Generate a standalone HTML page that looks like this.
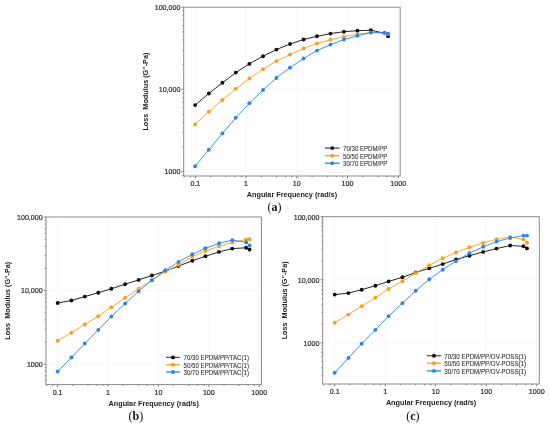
<!DOCTYPE html>
<html><head><meta charset="utf-8"><style>
html,body{margin:0;padding:0;background:#fff;width:550px;height:426px;overflow:hidden}
svg{display:block;filter:blur(0.25px)}
.tl{font-family:"Liberation Sans",Arial,sans-serif;font-size:7.1px;fill:#2a2a2a;stroke:#2a2a2a;stroke-width:0.2px}
.at{font-family:"Liberation Sans",Arial,sans-serif;font-size:7.25px;font-weight:bold;fill:#222}
.lg{font-family:"Liberation Sans",Arial,sans-serif;font-size:7px;fill:#333;stroke:#333;stroke-width:0.1px}
.sb{font-family:"Liberation Serif","Times New Roman",serif;font-size:12px;fill:#111}
.sbb{font-family:"Liberation Serif","Times New Roman",serif;font-size:12px;font-weight:bold;fill:#111}
</style></head><body>
<svg width="550" height="426" viewBox="0 0 550 426">
<line x1="195.4" y1="7.2" x2="195.4" y2="176" stroke="#f5f5f5" stroke-width="0.8"/>
<line x1="246.1" y1="7.2" x2="246.1" y2="176" stroke="#f5f5f5" stroke-width="0.8"/>
<line x1="296.8" y1="7.2" x2="296.8" y2="176" stroke="#f5f5f5" stroke-width="0.8"/>
<line x1="347.5" y1="7.2" x2="347.5" y2="176" stroke="#f5f5f5" stroke-width="0.8"/>
<line x1="398.2" y1="7.2" x2="398.2" y2="176" stroke="#f5f5f5" stroke-width="0.8"/>
<line x1="183.7" y1="171.6" x2="400.2" y2="171.6" stroke="#f5f5f5" stroke-width="0.8"/>
<line x1="183.7" y1="89.4" x2="400.2" y2="89.4" stroke="#f5f5f5" stroke-width="0.8"/>
<path d="M184.15 176v1.3 M190.49 176v1.3 M195.4 176v2.2 M210.66 176v1.3 M225.92 176v1.3 M234.85 176v1.3 M241.19 176v1.3 M246.1 176v2.2 M261.36 176v1.3 M276.62 176v1.3 M285.55 176v1.3 M291.89 176v1.3 M296.8 176v2.2 M312.06 176v1.3 M327.32 176v1.3 M336.25 176v1.3 M342.59 176v1.3 M347.5 176v2.2 M362.76 176v1.3 M378.02 176v1.3 M386.95 176v1.3 M393.29 176v1.3 M398.2 176v2.2 M183.7 175.36h-1.3 M183.7 171.6h-2.2 M183.7 146.86h-1.3 M183.7 132.38h-1.3 M183.7 122.11h-1.3 M183.7 114.14h-1.3 M183.7 107.64h-1.3 M183.7 102.13h-1.3 M183.7 97.37h-1.3 M183.7 93.16h-1.3 M183.7 89.4h-2.2 M183.7 64.66h-1.3 M183.7 50.18h-1.3 M183.7 39.91h-1.3 M183.7 31.94h-1.3 M183.7 25.44h-1.3 M183.7 19.93h-1.3 M183.7 15.17h-1.3 M183.7 10.96h-1.3 M183.7 7.2h-2.2" stroke="#555" stroke-width="0.8" fill="none"/>
<rect x="183.7" y="7.2" width="216.5" height="168.8" fill="none" stroke="#8a8a8a" stroke-width="1"/>
<text x="180.4" y="10" text-anchor="end" class="tl">100,000</text>
<text x="180.4" y="92.2" text-anchor="end" class="tl">10,000</text>
<text x="180.4" y="174.4" text-anchor="end" class="tl">1000</text>
<text x="195.4" y="186.4" text-anchor="middle" class="tl">0.1</text>
<text x="246.1" y="186.4" text-anchor="middle" class="tl">1</text>
<text x="296.8" y="186.4" text-anchor="middle" class="tl">10</text>
<text x="347.5" y="186.4" text-anchor="middle" class="tl">100</text>
<text x="398.2" y="186.4" text-anchor="middle" class="tl">1000</text>
<text x="291.95" y="197.2" text-anchor="middle" class="at">Angular Frequency (rad/s)</text>
<text transform="translate(147.5 91.6) rotate(-90)" text-anchor="middle" class="at" xml:space="preserve">Loss  Modulus (G''-Pa)</text>
<polyline points="195.1,105.1 208.8,93.5 222.4,82.8 235.8,72.6 249.4,63.9 263,56.2 276.4,49.6 290,44 303.6,39.5 317,36.3 330.5,33.6 343.9,31.7 357.5,30.7 370.9,30.2 384.5,33.3 388.1,36.2" fill="none" stroke="#0d0d0d" stroke-width="0.9"/>
<circle cx="195.1" cy="105.1" r="1.95" fill="#0d0d0d"/>
<circle cx="208.8" cy="93.5" r="1.95" fill="#0d0d0d"/>
<circle cx="222.4" cy="82.8" r="1.95" fill="#0d0d0d"/>
<circle cx="235.8" cy="72.6" r="1.95" fill="#0d0d0d"/>
<circle cx="249.4" cy="63.9" r="1.95" fill="#0d0d0d"/>
<circle cx="263" cy="56.2" r="1.95" fill="#0d0d0d"/>
<circle cx="276.4" cy="49.6" r="1.95" fill="#0d0d0d"/>
<circle cx="290" cy="44" r="1.95" fill="#0d0d0d"/>
<circle cx="303.6" cy="39.5" r="1.95" fill="#0d0d0d"/>
<circle cx="317" cy="36.3" r="1.95" fill="#0d0d0d"/>
<circle cx="330.5" cy="33.6" r="1.95" fill="#0d0d0d"/>
<circle cx="343.9" cy="31.7" r="1.95" fill="#0d0d0d"/>
<circle cx="357.5" cy="30.7" r="1.95" fill="#0d0d0d"/>
<circle cx="370.9" cy="30.2" r="1.95" fill="#0d0d0d"/>
<circle cx="384.5" cy="33.3" r="1.95" fill="#0d0d0d"/>
<circle cx="388.1" cy="36.2" r="1.95" fill="#0d0d0d"/>
<polyline points="195.1,124.4 208.8,111.8 222.4,100 235.8,88.8 249.4,78.5 263,69.3 276.4,61.1 290,54.6 303.6,48.5 317,43.4 330.5,39.8 343.9,36.6 357.5,34.1 370.9,32.5 384.5,33.4 388.1,34.1" fill="none" stroke="#f89f1e" stroke-width="0.9"/>
<circle cx="195.1" cy="124.4" r="1.95" fill="#f89f1e"/>
<circle cx="208.8" cy="111.8" r="1.95" fill="#f89f1e"/>
<circle cx="222.4" cy="100" r="1.95" fill="#f89f1e"/>
<circle cx="235.8" cy="88.8" r="1.95" fill="#f89f1e"/>
<circle cx="249.4" cy="78.5" r="1.95" fill="#f89f1e"/>
<circle cx="263" cy="69.3" r="1.95" fill="#f89f1e"/>
<circle cx="276.4" cy="61.1" r="1.95" fill="#f89f1e"/>
<circle cx="290" cy="54.6" r="1.95" fill="#f89f1e"/>
<circle cx="303.6" cy="48.5" r="1.95" fill="#f89f1e"/>
<circle cx="317" cy="43.4" r="1.95" fill="#f89f1e"/>
<circle cx="330.5" cy="39.8" r="1.95" fill="#f89f1e"/>
<circle cx="343.9" cy="36.6" r="1.95" fill="#f89f1e"/>
<circle cx="357.5" cy="34.1" r="1.95" fill="#f89f1e"/>
<circle cx="370.9" cy="32.5" r="1.95" fill="#f89f1e"/>
<circle cx="384.5" cy="33.4" r="1.95" fill="#f89f1e"/>
<circle cx="388.1" cy="34.1" r="1.95" fill="#f89f1e"/>
<polyline points="195.1,166.3 208.8,149.7 222.4,133.4 235.8,117.8 249.4,103.3 263,90 276.4,78 290,67.7 303.6,58.5 317,50.6 330.5,44.6 343.9,39.5 357.5,35.8 370.9,32.6 384.5,32.6 388.1,33.7" fill="none" stroke="#2f84ea" stroke-width="0.9"/>
<circle cx="195.1" cy="166.3" r="1.95" fill="#2f84ea"/>
<circle cx="208.8" cy="149.7" r="1.95" fill="#2f84ea"/>
<circle cx="222.4" cy="133.4" r="1.95" fill="#2f84ea"/>
<circle cx="235.8" cy="117.8" r="1.95" fill="#2f84ea"/>
<circle cx="249.4" cy="103.3" r="1.95" fill="#2f84ea"/>
<circle cx="263" cy="90" r="1.95" fill="#2f84ea"/>
<circle cx="276.4" cy="78" r="1.95" fill="#2f84ea"/>
<circle cx="290" cy="67.7" r="1.95" fill="#2f84ea"/>
<circle cx="303.6" cy="58.5" r="1.95" fill="#2f84ea"/>
<circle cx="317" cy="50.6" r="1.95" fill="#2f84ea"/>
<circle cx="330.5" cy="44.6" r="1.95" fill="#2f84ea"/>
<circle cx="343.9" cy="39.5" r="1.95" fill="#2f84ea"/>
<circle cx="357.5" cy="35.8" r="1.95" fill="#2f84ea"/>
<circle cx="370.9" cy="32.6" r="1.95" fill="#2f84ea"/>
<circle cx="384.5" cy="32.6" r="1.95" fill="#2f84ea"/>
<circle cx="388.1" cy="33.7" r="1.95" fill="#2f84ea"/>
<rect x="322.9" y="144.1" width="65.4" height="23.1" fill="#fff"/>
<line x1="324.9" y1="148.1" x2="339.6" y2="148.1" stroke="#555" stroke-width="1.3"/>
<circle cx="332.25" cy="148.1" r="1.95" fill="#0d0d0d"/>
<text x="343.1" y="151" class="lg" textLength="44.2" lengthAdjust="spacingAndGlyphs">70/30 EPDM/PP</text>
<line x1="324.9" y1="155.7" x2="339.6" y2="155.7" stroke="#f89f1e" stroke-width="1.3"/>
<circle cx="332.25" cy="155.7" r="1.95" fill="#f89f1e"/>
<text x="343.1" y="158.6" class="lg" textLength="44.2" lengthAdjust="spacingAndGlyphs">50/50 EPDM/PP</text>
<line x1="324.9" y1="163.2" x2="339.6" y2="163.2" stroke="#2f84ea" stroke-width="1.3"/>
<circle cx="332.25" cy="163.2" r="1.95" fill="#2f84ea"/>
<text x="343.1" y="166.1" class="lg" textLength="44.2" lengthAdjust="spacingAndGlyphs">30/70 EPDM/PP</text>
<text x="274.5" y="210.6" text-anchor="middle" class="sb">(<tspan font-weight="bold">a</tspan>)</text>
<line x1="57.6" y1="217" x2="57.6" y2="384.6" stroke="#f5f5f5" stroke-width="0.8"/>
<line x1="108" y1="217" x2="108" y2="384.6" stroke="#f5f5f5" stroke-width="0.8"/>
<line x1="158.4" y1="217" x2="158.4" y2="384.6" stroke="#f5f5f5" stroke-width="0.8"/>
<line x1="208.8" y1="217" x2="208.8" y2="384.6" stroke="#f5f5f5" stroke-width="0.8"/>
<line x1="259.2" y1="217" x2="259.2" y2="384.6" stroke="#f5f5f5" stroke-width="0.8"/>
<line x1="46" y1="364.3" x2="261.4" y2="364.3" stroke="#f5f5f5" stroke-width="0.8"/>
<line x1="46" y1="290.65" x2="261.4" y2="290.65" stroke="#f5f5f5" stroke-width="0.8"/>
<path d="M46.42 384.6v1.3 M52.72 384.6v1.3 M57.6 384.6v2.2 M72.77 384.6v1.3 M87.94 384.6v1.3 M96.82 384.6v1.3 M103.12 384.6v1.3 M108 384.6v2.2 M123.17 384.6v1.3 M138.34 384.6v1.3 M147.22 384.6v1.3 M153.52 384.6v1.3 M158.4 384.6v2.2 M173.57 384.6v1.3 M188.74 384.6v1.3 M197.62 384.6v1.3 M203.92 384.6v1.3 M208.8 384.6v2.2 M223.97 384.6v1.3 M239.14 384.6v1.3 M248.02 384.6v1.3 M254.32 384.6v1.3 M259.2 384.6v2.2 M46 380.64h-1.3 M46 375.71h-1.3 M46 371.44h-1.3 M46 367.67h-1.3 M46 364.3h-2.2 M46 342.13h-1.3 M46 329.16h-1.3 M46 319.96h-1.3 M46 312.82h-1.3 M46 306.99h-1.3 M46 302.06h-1.3 M46 297.79h-1.3 M46 294.02h-1.3 M46 290.65h-2.2 M46 268.48h-1.3 M46 255.51h-1.3 M46 246.31h-1.3 M46 239.17h-1.3 M46 233.34h-1.3 M46 228.41h-1.3 M46 224.14h-1.3 M46 220.37h-1.3 M46 217h-2.2" stroke="#555" stroke-width="0.8" fill="none"/>
<rect x="46" y="217" width="215.4" height="167.6" fill="none" stroke="#8a8a8a" stroke-width="1"/>
<text x="42.7" y="219.8" text-anchor="end" class="tl">100,000</text>
<text x="42.7" y="293.45" text-anchor="end" class="tl">10,000</text>
<text x="42.7" y="367.1" text-anchor="end" class="tl">1000</text>
<text x="57.6" y="395" text-anchor="middle" class="tl">0.1</text>
<text x="108" y="395" text-anchor="middle" class="tl">1</text>
<text x="158.4" y="395" text-anchor="middle" class="tl">10</text>
<text x="208.8" y="395" text-anchor="middle" class="tl">100</text>
<text x="259.2" y="395" text-anchor="middle" class="tl">1000</text>
<text x="153.7" y="405.8" text-anchor="middle" class="at">Angular Frequency (rad/s)</text>
<text transform="translate(9.8 300.8) rotate(-90)" text-anchor="middle" class="at" xml:space="preserve">Loss  Modulus (G''-Pa)</text>
<polyline points="57.7,303 71.4,300.5 84.8,296.6 98.3,292.7 111.4,288.8 125.1,284.2 138.6,279.9 151.9,275.5 165.3,271.1 178.5,266.1 192.3,260.8 205.4,256.3 219,251.9 232.3,248.6 246.1,247.8 249.5,249.5" fill="none" stroke="#0d0d0d" stroke-width="0.9"/>
<circle cx="57.7" cy="303" r="1.95" fill="#0d0d0d"/>
<circle cx="71.4" cy="300.5" r="1.95" fill="#0d0d0d"/>
<circle cx="84.8" cy="296.6" r="1.95" fill="#0d0d0d"/>
<circle cx="98.3" cy="292.7" r="1.95" fill="#0d0d0d"/>
<circle cx="111.4" cy="288.8" r="1.95" fill="#0d0d0d"/>
<circle cx="125.1" cy="284.2" r="1.95" fill="#0d0d0d"/>
<circle cx="138.6" cy="279.9" r="1.95" fill="#0d0d0d"/>
<circle cx="151.9" cy="275.5" r="1.95" fill="#0d0d0d"/>
<circle cx="165.3" cy="271.1" r="1.95" fill="#0d0d0d"/>
<circle cx="178.5" cy="266.1" r="1.95" fill="#0d0d0d"/>
<circle cx="192.3" cy="260.8" r="1.95" fill="#0d0d0d"/>
<circle cx="205.4" cy="256.3" r="1.95" fill="#0d0d0d"/>
<circle cx="219" cy="251.9" r="1.95" fill="#0d0d0d"/>
<circle cx="232.3" cy="248.6" r="1.95" fill="#0d0d0d"/>
<circle cx="246.1" cy="247.8" r="1.95" fill="#0d0d0d"/>
<circle cx="249.5" cy="249.5" r="1.95" fill="#0d0d0d"/>
<polyline points="57.7,340.7 71.4,332.7 84.8,324.5 98.3,316.2 111.4,307.2 125.1,297.9 138.6,288.8 151.9,280.1 165.3,271.7 178.5,264.9 192.3,256.7 205.4,251 219,246.2 232.3,242.3 246.1,239.5 249.5,239.3" fill="none" stroke="#f89f1e" stroke-width="0.9"/>
<circle cx="57.7" cy="340.7" r="1.95" fill="#f89f1e"/>
<circle cx="71.4" cy="332.7" r="1.95" fill="#f89f1e"/>
<circle cx="84.8" cy="324.5" r="1.95" fill="#f89f1e"/>
<circle cx="98.3" cy="316.2" r="1.95" fill="#f89f1e"/>
<circle cx="111.4" cy="307.2" r="1.95" fill="#f89f1e"/>
<circle cx="125.1" cy="297.9" r="1.95" fill="#f89f1e"/>
<circle cx="138.6" cy="288.8" r="1.95" fill="#f89f1e"/>
<circle cx="151.9" cy="280.1" r="1.95" fill="#f89f1e"/>
<circle cx="165.3" cy="271.7" r="1.95" fill="#f89f1e"/>
<circle cx="178.5" cy="264.9" r="1.95" fill="#f89f1e"/>
<circle cx="192.3" cy="256.7" r="1.95" fill="#f89f1e"/>
<circle cx="205.4" cy="251" r="1.95" fill="#f89f1e"/>
<circle cx="219" cy="246.2" r="1.95" fill="#f89f1e"/>
<circle cx="232.3" cy="242.3" r="1.95" fill="#f89f1e"/>
<circle cx="246.1" cy="239.5" r="1.95" fill="#f89f1e"/>
<circle cx="249.5" cy="239.3" r="1.95" fill="#f89f1e"/>
<polyline points="57.7,371.5 71.4,357.5 84.8,343.5 98.3,329.9 111.4,316.5 125.1,303.5 138.6,291.4 151.9,280.3 165.3,270.3 178.5,261.9 192.3,254.3 205.4,248.3 219,243.3 232.3,240.1 246.1,242.2 249.5,245.4" fill="none" stroke="#2f84ea" stroke-width="0.9"/>
<circle cx="57.7" cy="371.5" r="1.95" fill="#2f84ea"/>
<circle cx="71.4" cy="357.5" r="1.95" fill="#2f84ea"/>
<circle cx="84.8" cy="343.5" r="1.95" fill="#2f84ea"/>
<circle cx="98.3" cy="329.9" r="1.95" fill="#2f84ea"/>
<circle cx="111.4" cy="316.5" r="1.95" fill="#2f84ea"/>
<circle cx="125.1" cy="303.5" r="1.95" fill="#2f84ea"/>
<circle cx="138.6" cy="291.4" r="1.95" fill="#2f84ea"/>
<circle cx="151.9" cy="280.3" r="1.95" fill="#2f84ea"/>
<circle cx="165.3" cy="270.3" r="1.95" fill="#2f84ea"/>
<circle cx="178.5" cy="261.9" r="1.95" fill="#2f84ea"/>
<circle cx="192.3" cy="254.3" r="1.95" fill="#2f84ea"/>
<circle cx="205.4" cy="248.3" r="1.95" fill="#2f84ea"/>
<circle cx="219" cy="243.3" r="1.95" fill="#2f84ea"/>
<circle cx="232.3" cy="240.1" r="1.95" fill="#2f84ea"/>
<circle cx="246.1" cy="242.2" r="1.95" fill="#2f84ea"/>
<circle cx="249.5" cy="245.4" r="1.95" fill="#2f84ea"/>
<rect x="164" y="353.4" width="86" height="22.6" fill="#fff"/>
<line x1="166" y1="357.4" x2="180" y2="357.4" stroke="#555" stroke-width="1.3"/>
<circle cx="173" cy="357.4" r="1.95" fill="#0d0d0d"/>
<text x="183.6" y="360.3" class="lg" textLength="65.4" lengthAdjust="spacingAndGlyphs">70/30 EPDM/PP/TAC(1)</text>
<line x1="166" y1="364.8" x2="180" y2="364.8" stroke="#f89f1e" stroke-width="1.3"/>
<circle cx="173" cy="364.8" r="1.95" fill="#f89f1e"/>
<text x="183.6" y="367.7" class="lg" textLength="65.4" lengthAdjust="spacingAndGlyphs">50/50 EPDM/PP/TAC(1)</text>
<line x1="166" y1="372" x2="180" y2="372" stroke="#2f84ea" stroke-width="1.3"/>
<circle cx="173" cy="372" r="1.95" fill="#2f84ea"/>
<text x="183.6" y="374.9" class="lg" textLength="65.4" lengthAdjust="spacingAndGlyphs">30/70 EPDM/PP/TAC(1)</text>
<text x="135.8" y="419.5" text-anchor="middle" class="sb">(<tspan font-weight="bold">b</tspan>)</text>
<line x1="334.7" y1="216.7" x2="334.7" y2="384" stroke="#f5f5f5" stroke-width="0.8"/>
<line x1="385.2" y1="216.7" x2="385.2" y2="384" stroke="#f5f5f5" stroke-width="0.8"/>
<line x1="435.7" y1="216.7" x2="435.7" y2="384" stroke="#f5f5f5" stroke-width="0.8"/>
<line x1="486.2" y1="216.7" x2="486.2" y2="384" stroke="#f5f5f5" stroke-width="0.8"/>
<line x1="536.7" y1="216.7" x2="536.7" y2="384" stroke="#f5f5f5" stroke-width="0.8"/>
<line x1="322.7" y1="342.8" x2="539.3" y2="342.8" stroke="#f5f5f5" stroke-width="0.8"/>
<line x1="322.7" y1="279.8" x2="539.3" y2="279.8" stroke="#f5f5f5" stroke-width="0.8"/>
<path d="M323.5 384v1.3 M329.81 384v1.3 M334.7 384v2.2 M349.9 384v1.3 M365.1 384v1.3 M374 384v1.3 M380.31 384v1.3 M385.2 384v2.2 M400.4 384v1.3 M415.6 384v1.3 M424.5 384v1.3 M430.81 384v1.3 M435.7 384v2.2 M450.9 384v1.3 M466.1 384v1.3 M475 384v1.3 M481.31 384v1.3 M486.2 384v2.2 M501.4 384v1.3 M516.6 384v1.3 M525.5 384v1.3 M531.81 384v1.3 M536.7 384v2.2 M322.7 375.74h-1.3 M322.7 367.87h-1.3 M322.7 361.76h-1.3 M322.7 356.78h-1.3 M322.7 352.56h-1.3 M322.7 348.91h-1.3 M322.7 345.68h-1.3 M322.7 342.8h-2.2 M322.7 323.84h-1.3 M322.7 312.74h-1.3 M322.7 304.87h-1.3 M322.7 298.76h-1.3 M322.7 293.78h-1.3 M322.7 289.56h-1.3 M322.7 285.91h-1.3 M322.7 282.68h-1.3 M322.7 279.8h-2.2 M322.7 260.84h-1.3 M322.7 249.74h-1.3 M322.7 241.87h-1.3 M322.7 235.76h-1.3 M322.7 230.78h-1.3 M322.7 226.56h-1.3 M322.7 222.91h-1.3 M322.7 219.68h-1.3 M322.7 216.8h-2.2" stroke="#555" stroke-width="0.8" fill="none"/>
<rect x="322.7" y="216.7" width="216.6" height="167.3" fill="none" stroke="#8a8a8a" stroke-width="1"/>
<text x="319.4" y="219.6" text-anchor="end" class="tl">100,000</text>
<text x="319.4" y="282.6" text-anchor="end" class="tl">10,000</text>
<text x="319.4" y="345.6" text-anchor="end" class="tl">1000</text>
<text x="334.7" y="394.4" text-anchor="middle" class="tl">0.1</text>
<text x="385.2" y="394.4" text-anchor="middle" class="tl">1</text>
<text x="435.7" y="394.4" text-anchor="middle" class="tl">10</text>
<text x="486.2" y="394.4" text-anchor="middle" class="tl">100</text>
<text x="536.7" y="394.4" text-anchor="middle" class="tl">1000</text>
<text x="431" y="405.2" text-anchor="middle" class="at">Angular Frequency (rad/s)</text>
<text transform="translate(286.5 300.35) rotate(-90)" text-anchor="middle" class="at" xml:space="preserve">Loss  Modulus (G''-Pa)</text>
<polyline points="334.7,294.6 348.4,293.1 361.7,289.7 375.4,285.7 388.6,281.4 402.4,277.3 415.7,272.5 429.3,268.3 442.7,264.1 456,259.5 469.5,255.7 483.2,251.9 496.5,248.6 510.2,245.5 523.5,246.3 527,248.4" fill="none" stroke="#0d0d0d" stroke-width="0.9"/>
<circle cx="334.7" cy="294.6" r="1.95" fill="#0d0d0d"/>
<circle cx="348.4" cy="293.1" r="1.95" fill="#0d0d0d"/>
<circle cx="361.7" cy="289.7" r="1.95" fill="#0d0d0d"/>
<circle cx="375.4" cy="285.7" r="1.95" fill="#0d0d0d"/>
<circle cx="388.6" cy="281.4" r="1.95" fill="#0d0d0d"/>
<circle cx="402.4" cy="277.3" r="1.95" fill="#0d0d0d"/>
<circle cx="415.7" cy="272.5" r="1.95" fill="#0d0d0d"/>
<circle cx="429.3" cy="268.3" r="1.95" fill="#0d0d0d"/>
<circle cx="442.7" cy="264.1" r="1.95" fill="#0d0d0d"/>
<circle cx="456" cy="259.5" r="1.95" fill="#0d0d0d"/>
<circle cx="469.5" cy="255.7" r="1.95" fill="#0d0d0d"/>
<circle cx="483.2" cy="251.9" r="1.95" fill="#0d0d0d"/>
<circle cx="496.5" cy="248.6" r="1.95" fill="#0d0d0d"/>
<circle cx="510.2" cy="245.5" r="1.95" fill="#0d0d0d"/>
<circle cx="523.5" cy="246.3" r="1.95" fill="#0d0d0d"/>
<circle cx="527" cy="248.4" r="1.95" fill="#0d0d0d"/>
<polyline points="334.7,322.7 348.4,314.6 361.7,306.2 375.4,297.7 388.6,289 402.4,281.2 415.7,272.9 429.3,265.3 442.7,258.3 456,252.5 469.5,247.3 483.2,243 496.5,239.2 510.2,236.9 523.5,239.4 527,242.7" fill="none" stroke="#f89f1e" stroke-width="0.9"/>
<circle cx="334.7" cy="322.7" r="1.95" fill="#f89f1e"/>
<circle cx="348.4" cy="314.6" r="1.95" fill="#f89f1e"/>
<circle cx="361.7" cy="306.2" r="1.95" fill="#f89f1e"/>
<circle cx="375.4" cy="297.7" r="1.95" fill="#f89f1e"/>
<circle cx="388.6" cy="289" r="1.95" fill="#f89f1e"/>
<circle cx="402.4" cy="281.2" r="1.95" fill="#f89f1e"/>
<circle cx="415.7" cy="272.9" r="1.95" fill="#f89f1e"/>
<circle cx="429.3" cy="265.3" r="1.95" fill="#f89f1e"/>
<circle cx="442.7" cy="258.3" r="1.95" fill="#f89f1e"/>
<circle cx="456" cy="252.5" r="1.95" fill="#f89f1e"/>
<circle cx="469.5" cy="247.3" r="1.95" fill="#f89f1e"/>
<circle cx="483.2" cy="243" r="1.95" fill="#f89f1e"/>
<circle cx="496.5" cy="239.2" r="1.95" fill="#f89f1e"/>
<circle cx="510.2" cy="236.9" r="1.95" fill="#f89f1e"/>
<circle cx="523.5" cy="239.4" r="1.95" fill="#f89f1e"/>
<circle cx="527" cy="242.7" r="1.95" fill="#f89f1e"/>
<polyline points="334.7,372.8 348.4,358 361.7,343.7 375.4,329.9 388.6,316.1 402.4,303.2 415.7,290.8 429.3,279.3 442.7,269.7 456,261.1 469.5,253.1 483.2,246.8 496.5,241.6 510.2,238 523.5,235.6 527,235.6" fill="none" stroke="#2f84ea" stroke-width="0.9"/>
<circle cx="334.7" cy="372.8" r="1.95" fill="#2f84ea"/>
<circle cx="348.4" cy="358" r="1.95" fill="#2f84ea"/>
<circle cx="361.7" cy="343.7" r="1.95" fill="#2f84ea"/>
<circle cx="375.4" cy="329.9" r="1.95" fill="#2f84ea"/>
<circle cx="388.6" cy="316.1" r="1.95" fill="#2f84ea"/>
<circle cx="402.4" cy="303.2" r="1.95" fill="#2f84ea"/>
<circle cx="415.7" cy="290.8" r="1.95" fill="#2f84ea"/>
<circle cx="429.3" cy="279.3" r="1.95" fill="#2f84ea"/>
<circle cx="442.7" cy="269.7" r="1.95" fill="#2f84ea"/>
<circle cx="456" cy="261.1" r="1.95" fill="#2f84ea"/>
<circle cx="469.5" cy="253.1" r="1.95" fill="#2f84ea"/>
<circle cx="483.2" cy="246.8" r="1.95" fill="#2f84ea"/>
<circle cx="496.5" cy="241.6" r="1.95" fill="#2f84ea"/>
<circle cx="510.2" cy="238" r="1.95" fill="#2f84ea"/>
<circle cx="523.5" cy="235.6" r="1.95" fill="#2f84ea"/>
<circle cx="527" cy="235.6" r="1.95" fill="#2f84ea"/>
<rect x="424.8" y="351.7" width="102.3" height="23.2" fill="#fff"/>
<line x1="426.8" y1="355.7" x2="441.1" y2="355.7" stroke="#555" stroke-width="1.3"/>
<circle cx="433.95" cy="355.7" r="1.95" fill="#0d0d0d"/>
<text x="444.3" y="358.6" class="lg" textLength="81.8" lengthAdjust="spacingAndGlyphs">70/30 EPDM/PP/OV-POSS(1)</text>
<line x1="426.8" y1="363.2" x2="441.1" y2="363.2" stroke="#f89f1e" stroke-width="1.3"/>
<circle cx="433.95" cy="363.2" r="1.95" fill="#f89f1e"/>
<text x="444.3" y="366.1" class="lg" textLength="81.8" lengthAdjust="spacingAndGlyphs">50/50 EPDM/PP/OV-POSS(1)</text>
<line x1="426.8" y1="370.9" x2="441.1" y2="370.9" stroke="#2f84ea" stroke-width="1.3"/>
<circle cx="433.95" cy="370.9" r="1.95" fill="#2f84ea"/>
<text x="444.3" y="373.8" class="lg" textLength="81.8" lengthAdjust="spacingAndGlyphs">30/70 EPDM/PP/OV-POSS(1)</text>
<text x="412.9" y="420" text-anchor="middle" class="sb">(<tspan font-weight="bold">c</tspan>)</text>
</svg>
</body></html>
